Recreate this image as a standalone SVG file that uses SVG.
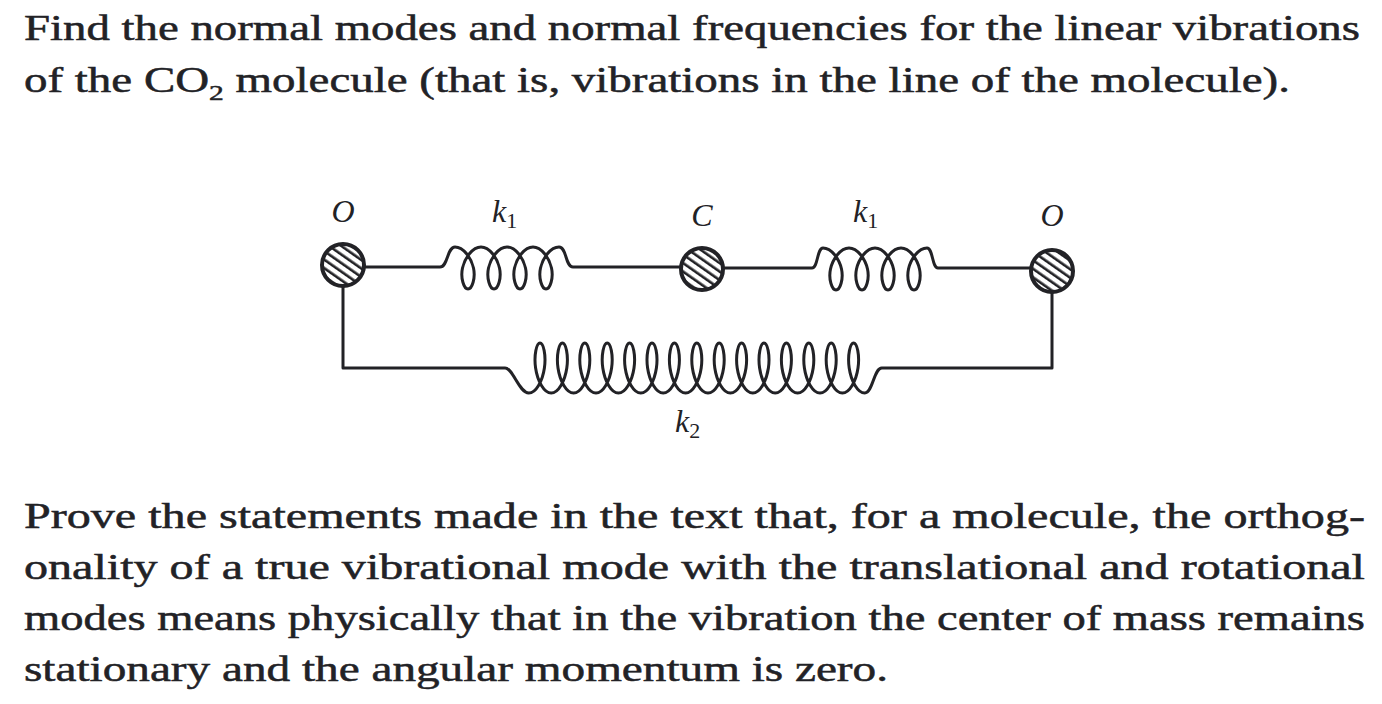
<svg xmlns="http://www.w3.org/2000/svg" width="1382" height="704" viewBox="0 0 1382 704">
<style>
.t{font-family:"Liberation Serif","DejaVu Serif",serif;font-size:35px;fill:#222226;stroke:#222226;stroke-width:0.5}
.l{font-family:"Liberation Serif","DejaVu Serif",serif;font-style:italic;font-size:32px;fill:#222226}
.w{fill:none;stroke:#222226;stroke-width:3;stroke-linejoin:round}
.ball{fill:url(#hatch);stroke:#222226;stroke-width:4}
</style>
<defs>
<pattern id="hatch" patternUnits="userSpaceOnUse" width="7" height="7" patternTransform="rotate(-55)">
<rect width="7" height="7" fill="#fff"/>
<rect width="2.6" height="7" fill="#222226"/>
</pattern>
</defs>
<rect width="1382" height="704" fill="#fff"/>
<text class="t" x="24" y="40" textLength="1336" lengthAdjust="spacingAndGlyphs">Find the normal modes and normal frequencies for the linear vibrations</text>
<text class="t" x="24" y="92" textLength="1266" lengthAdjust="spacingAndGlyphs">of the CO<tspan font-size="22" dy="8">2</tspan><tspan dy="-8"> molecule (that is, vibrations in the line of the molecule).</tspan></text>
<g id="connectors">
<path class="w" d="M365,267 H440 c8,0 7,-20 15,-20 c8.45,0 16.33,11 18.5,21 c2.17,10 -1.38,21 -5.5,21 c-4.12,0 -7.67,-11 -5.5,-21 c2.17,-10 10.05,-21 18.5,-21 c8.45,0 16.33,11 18.5,21 c2.17,10 -1.38,21 -5.5,21 c-4.12,0 -7.67,-11 -5.5,-21 c2.17,-10 10.05,-21 18.5,-21 c8.45,0 16.33,11 18.5,21 c2.17,10 -1.38,21 -5.5,21 c-4.12,0 -7.67,-11 -5.5,-21 c2.17,-10 10.05,-21 18.5,-21 c8.45,0 16.33,11 18.5,21 c2.17,10 -1.38,21 -5.5,21 c-4.12,0 -7.67,-11 -5.5,-21 c2.17,-10 10.05,-21 18.5,-21 c8,0 6,20 14,20 H680"/>
<path class="w" d="M724,268 H812 c6,0 5,-20 11,-20 c8.45,0 16.33,11 18.5,21 c2.17,10 -1.38,21 -5.5,21 c-4.12,0 -7.67,-11 -5.5,-21 c2.17,-10 10.05,-21 18.5,-21 c8.45,0 16.33,11 18.5,21 c2.17,10 -1.38,21 -5.5,21 c-4.12,0 -7.67,-11 -5.5,-21 c2.17,-10 10.05,-21 18.5,-21 c8.45,0 16.33,11 18.5,21 c2.17,10 -1.38,21 -5.5,21 c-4.12,0 -7.67,-11 -5.5,-21 c2.17,-10 10.05,-21 18.5,-21 c8.45,0 16.33,11 18.5,21 c2.17,10 -1.38,21 -5.5,21 c-4.12,0 -7.67,-11 -5.5,-21 c2.17,-10 10.05,-21 18.5,-21 c6,0 5,20 11,20 H1030"/>
<path class="w" d="M343,287 V368 H505 c8,0 14,25 23.8,25 c7.1,0 13.73,-11.91 15.6,-25 c1.87,-13.09 -1.03,-25 -4.4,-25 c-3.37,0 -6.27,11.91 -4.4,25 c1.87,13.09 8.5,25 15.6,25 c7.1,0 13.73,-11.91 15.6,-25 c1.87,-13.09 -1.03,-25 -4.4,-25 c-3.37,0 -6.27,11.91 -4.4,25 c1.87,13.09 8.5,25 15.6,25 c7.1,0 13.73,-11.91 15.6,-25 c1.87,-13.09 -1.03,-25 -4.4,-25 c-3.37,0 -6.27,11.91 -4.4,25 c1.87,13.09 8.5,25 15.6,25 c7.1,0 13.73,-11.91 15.6,-25 c1.87,-13.09 -1.03,-25 -4.4,-25 c-3.37,0 -6.27,11.91 -4.4,25 c1.87,13.09 8.5,25 15.6,25 c7.1,0 13.73,-11.91 15.6,-25 c1.87,-13.09 -1.03,-25 -4.4,-25 c-3.37,0 -6.27,11.91 -4.4,25 c1.87,13.09 8.5,25 15.6,25 c7.1,0 13.73,-11.91 15.6,-25 c1.87,-13.09 -1.03,-25 -4.4,-25 c-3.37,0 -6.27,11.91 -4.4,25 c1.87,13.09 8.5,25 15.6,25 c7.1,0 13.73,-11.91 15.6,-25 c1.87,-13.09 -1.03,-25 -4.4,-25 c-3.37,0 -6.27,11.91 -4.4,25 c1.87,13.09 8.5,25 15.6,25 c7.1,0 13.73,-11.91 15.6,-25 c1.87,-13.09 -1.03,-25 -4.4,-25 c-3.37,0 -6.27,11.91 -4.4,25 c1.87,13.09 8.5,25 15.6,25 c7.1,0 13.73,-11.91 15.6,-25 c1.87,-13.09 -1.03,-25 -4.4,-25 c-3.37,0 -6.27,11.91 -4.4,25 c1.87,13.09 8.5,25 15.6,25 c7.1,0 13.73,-11.91 15.6,-25 c1.87,-13.09 -1.03,-25 -4.4,-25 c-3.37,0 -6.27,11.91 -4.4,25 c1.87,13.09 8.5,25 15.6,25 c7.1,0 13.73,-11.91 15.6,-25 c1.87,-13.09 -1.03,-25 -4.4,-25 c-3.37,0 -6.27,11.91 -4.4,25 c1.87,13.09 8.5,25 15.6,25 c7.1,0 13.73,-11.91 15.6,-25 c1.87,-13.09 -1.03,-25 -4.4,-25 c-3.37,0 -6.27,11.91 -4.4,25 c1.87,13.09 8.5,25 15.6,25 c7.1,0 13.73,-11.91 15.6,-25 c1.87,-13.09 -1.03,-25 -4.4,-25 c-3.37,0 -6.27,11.91 -4.4,25 c1.87,13.09 8.5,25 15.6,25 c7.1,0 13.73,-11.91 15.6,-25 c1.87,-13.09 -1.03,-25 -4.4,-25 c-3.37,0 -6.27,11.91 -4.4,25 c1.87,13.09 8.5,25 15.6,25 c7.1,0 13.73,-11.91 15.6,-25 c1.87,-13.09 -1.03,-25 -4.4,-25 c-3.37,0 -6.27,11.91 -4.4,25 c1.87,13.09 8.5,25 15.6,25 c8,0 9,-25 17,-25 H1052 V292"/>
</g>
<g id="oxygen-left"><circle class="ball" cx="343" cy="265" r="21"/><text class="l" x="343" y="222" text-anchor="middle">O</text></g>
<g id="carbon"><circle class="ball" cx="702" cy="269" r="21"/><text class="l" x="702" y="226" text-anchor="middle">C</text></g>
<g id="oxygen-right"><circle class="ball" cx="1052" cy="271" r="21"/><text class="l" x="1052" y="226" text-anchor="middle">O</text></g>
<g id="label-k1-left"><text class="l" x="492" y="222">k<tspan font-style="normal" font-size="22" dy="6">1</tspan></text></g>
<g id="label-k1-right"><text class="l" x="853" y="222">k<tspan font-style="normal" font-size="22" dy="6">1</tspan></text></g>
<g id="label-k2"><text class="l" x="675" y="432">k<tspan font-style="normal" font-size="22" dy="6">2</tspan></text></g>
<text class="t" x="24" y="528" textLength="1341" lengthAdjust="spacingAndGlyphs">Prove the statements made in the text that, for a molecule, the orthog-</text>
<text class="t" x="24" y="579" textLength="1341" lengthAdjust="spacingAndGlyphs">onality of a true vibrational mode with the translational and rotational</text>
<text class="t" x="24" y="630" textLength="1341" lengthAdjust="spacingAndGlyphs">modes means physically that in the vibration the center of mass remains</text>
<text class="t" x="24" y="681" textLength="864" lengthAdjust="spacingAndGlyphs">stationary and the angular momentum is zero.</text>
</svg>
